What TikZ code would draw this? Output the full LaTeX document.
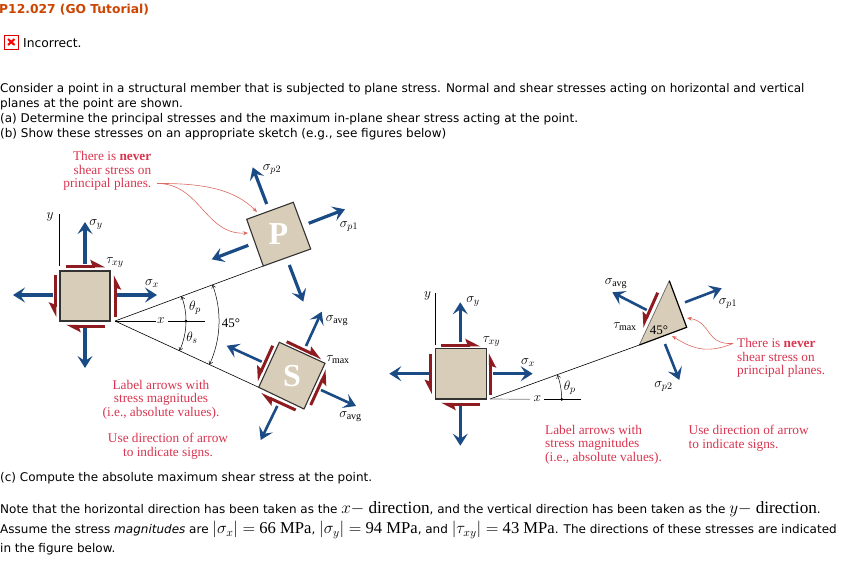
\documentclass[tikz,border=0pt]{standalone}
\usepackage{fix-cm}
\usepackage{amsmath}
\usepackage{fontspec}
\usetikzlibrary{arrows.meta}
\setmainfont{DejaVu Sans}
\setmathrm{Liberation Serif}
\newfontfamily\bookfont{Liberation Serif}
\DeclareMathSizes{13.5}{13.5}{10}{8}
\definecolor{stressblue}{HTML}{1B4B85}
\definecolor{stressred}{HTML}{8E1B20}
\definecolor{notepink}{HTML}{D8344F}
\definecolor{leaderpink}{HTML}{DB6A60}
\definecolor{boxtan}{HTML}{D8CDB8}
\definecolor{headorange}{HTML}{CC4400}
\newcommand{\bigserif}{\bookfont\fontsize{16.6}{16}\selectfont}
\newcommand{\dirserif}{\bookfont\fontsize{17.2}{16}\selectfont}
\tikzset{
	webtext/.style = {anchor=west, inner sep=0, yshift=-.7pt, font=\fontsize{12}{14}\selectfont},
	note/.style = {inner sep=0, yshift=-1pt, text=notepink, align=#1, font=\bookfont\fontsize{13.3}{13.6}\selectfont},
	note/.default = center,
	sym/.style = {inner sep=0, font=\fontsize{13.5}{13.5}\selectfont},
	bluearrow/.style = {draw=stressblue, line width=3.2pt, -{Stealth[length=12pt,width=15pt,inset=5pt]}},
	redarrow/.style = {draw=stressred, line width=3pt, -{Stealth[harpoon,length=12pt,width=12pt,inset=2pt]}},
	redarrowb/.style = {draw=stressred, line width=3pt, -{Stealth[harpoon,swap,length=12pt,width=12pt,inset=2pt]}},
	leader/.style = {draw=leaderpink, line width=.6pt, -{Stealth[length=5pt,width=4pt]}},
	thinarc/.style = {line width=.5pt, {Straight Barb[length=3pt,width=4pt]}-{Straight Barb[length=3pt,width=4pt]}},
	stressbox/.style = {draw=black!80, line width=1.5pt, fill=boxtan, line join=miter}
}
\begin{document}
\begin{tikzpicture}[x=1pt,y=-1pt]
	\useasboundingbox (0,0) rectangle (844,566);

	% page text
	\node [webtext, text=headorange, font=\bfseries\fontsize{12.3}{14}\selectfont] (title) at (-1,9) {P12.027 (GO Tutorial)};
	\draw [red!85!black, line width=1pt] (4,35) rectangle (18.5,49);
	\draw [red, line width=2pt] (8,39) -- (14.5,45) (14.5,39) -- (8,45);
	\node [webtext, font=\fontsize{12.3}{14}\selectfont] (verdict) at (23,42) {Incorrect.};
	\node [webtext] (lineA) at (0,88) {Consider a point in a structural member that is subjected to plane stress. Normal and shear stresses acting on horizontal and vertical};
	\node [webtext] (lineB) at (0,103) {planes at the point are shown.};
	\node [webtext] (lineC) at (0,118) {(a) Determine the principal stresses and the maximum in-plane shear stress acting at the point.};
	\node [webtext] (lineD) at (0,133) {(b) Show these stresses on an appropriate sketch (e.g., see figures below)};
	\node [webtext] (lineE) at (0,477) {(c) Compute the absolute maximum shear stress at the point.};
	\node [webtext] (lineF) at (0,508) {Note that the horizontal direction has been taken as the {\dirserif $x-$ direction}, and the vertical direction has been taken as the {\dirserif $y-$ direction}.};
	\node [webtext] (lineG) at (0,529) {Assume the stress \emph{magnitudes} are {\bigserif $|\sigma_x|=$ 66 MPa}, {\bigserif $|\sigma_y|=$ 94 MPa}, and {\bigserif $|\tau_{xy}|=$ 43 MPa}. The directions of these stresses are indicated};
	\node [webtext] (lineH) at (0,548) {in the figure below.};

	% left figure: element
	\draw [line width=.7pt] (59.5,214) -- (59.5,266);
	\draw [stressbox] (60,271) rectangle (110,321);
	\coordinate (pivotL) at (115,321);
	\draw [bluearrow] (85,264) -- (85,222);
	\draw [bluearrow] (117,295) -- (157,295);
	\draw [bluearrow] (53,295) -- (13,295);
	\draw [bluearrow] (85,326) -- (85,368);
	\draw [redarrow] (66,266) -- (105,266);
	\draw [redarrowb] (115,317) -- (115,275);
	\draw [redarrowb] (55,275) -- (55,317);
	\draw [redarrow] (105,326) -- (66,326);
	\node [sym] (yL) at (50,217) {$y$};
	\node [sym] (sigyL) at (96,225) {$\sigma_y$};
	\node [sym] (tauL) at (115,263) {$\tau_{xy}$};
	\node [sym] (sigxL) at (152,284) {$\sigma_x$};

	% left figure: P element
	\coordinate (cornerP) at (263.3,266);
	\draw [line width=.6pt] (pivotL) -- (cornerP);
	\draw [stressbox, line width=1.1pt] (246.7,219.3) -- (293.3,202.3) -- (310.7,249) -- (263.3,266) -- cycle;
	\node [text=white, font=\bookfont\bfseries\fontsize{32}{32}\selectfont, inner sep=0] (letterP) at (278.5,234) {P};
	\draw [bluearrow] (308.7,223.3) -- (345,209.3);
	\draw [bluearrow] (266.7,204) -- (252.7,167.3);
	\draw [bluearrow] (248.3,245.3) -- (211.7,259.3);
	\draw [bluearrow] (289.3,265) -- (303.3,301.7);
	\node [sym] (sigpA) at (272,170) {$\sigma_{p2}$};
	\node [sym] (sigpB) at (349,227) {$\sigma_{p1}$};
	\node [note=right, anchor=east] (neverL) at (151.5,170) {There is \textbf{never}\\shear stress on\\principal planes.};
	\coordinate (leaderL) at (157,183.5);
	\draw [leader] (leaderL) .. controls (205,183) and (235,190) .. (257,212);
	\draw [leader] (leaderL) .. controls (200,183) and (205,235) .. (248,233);

	% left figure: angles
	\draw [line width=.7pt] (pivotL) -- (156,321);
	\draw [line width=.7pt] (168,321) -- (205,321);
	\node [sym] (xL) at (161,321) {$x$};
	\fill (186,321) circle [radius=1.5pt];
	\draw [line width=.5pt, -{Straight Barb[length=3pt,width=4pt]}] (186,321) arc [start angle=0,end angle=20.4,radius=71pt];
	\draw [line width=.5pt, -{Straight Barb[length=3pt,width=4pt]}] (186,321) arc [start angle=0,end angle=-24.8,radius=71pt];
	\draw [thinarc] (pivotL) ++(-24.8:104pt) arc [start angle=-24.8,end angle=20.4,radius=104pt];
	\node [sym] (thpL) at (195,308) {$\theta_p$};
	\node [sym] (thsL) at (192,338) {$\theta_s$};
	\node [sym, font=\bookfont\fontsize{13}{13}\selectfont] (angL) at (231,323) {45°};

	% left figure: S element
	\coordinate (cornerS) at (258.7,387.3);
	\draw [line width=.6pt] (pivotL) -- (cornerS);
	\draw [stressbox, line width=1.1pt] (279.3,342.3) -- (325,363.3) -- (304,409) -- (258.7,387.3) -- cycle;
	\node [text=white, font=\bookfont\bfseries\fontsize{32}{32}\selectfont, inner sep=0] (letterS) at (292,376) {S};
	\draw [bluearrow, line width=2.6pt] (306,346) -- (321.7,311.7);
	\draw [bluearrow, line width=2.6pt] (321,390) -- (356,406);
	\draw [bluearrow, line width=2.6pt] (261.7,361.7) -- (226.7,345.7);
	\draw [bluearrow, line width=2.6pt] (277.3,406) -- (260.7,440);
	\draw [redarrow] (286.7,341.7) -- (321.7,358.3);
	\draw [redarrowb] (310.7,405) -- (326.7,370);
	\draw [redarrow] (295.7,410) -- (260.7,394);
	\draw [redarrowb] (272.7,345.7) -- (256.7,381);
	\node [sym] (sigaA) at (337,320.5) {$\sigma_{\mathrm{avg}}$};
	\node [sym] (sigaB) at (350.5,416.5) {$\sigma_{\mathrm{avg}}$};
	\node [sym] (tauS) at (338,360) {$\tau_{\mathrm{max}}$};
	\node [note] (labelL) at (161,398.5) {Label arrows with\\stress magnitudes\\(i.e., absolute values).};
	\node [note] (signL) at (168,445.5) {Use direction of arrow\\to indicate signs.};

	% right figure: element
	\draw [line width=.7pt] (435.7,293) -- (435.7,345);
	\draw [stressbox] (435.7,348.3) rectangle (486.7,399);
	\coordinate (pivotR) at (490,399);
	\draw [bluearrow] (460.3,342.3) -- (460.3,302.3);
	\draw [bluearrow] (492.7,373.7) -- (532.7,373.7);
	\draw [bluearrow] (429.3,373.7) -- (389.3,373.7);
	\draw [bluearrow] (460.3,406) -- (460.3,445.7);
	\draw [redarrow] (441,345) -- (480,345);
	\draw [redarrowb] (490,395) -- (490,353);
	\draw [redarrowb] (430.7,354) -- (430.7,394.3);
	\draw [redarrow] (480,404) -- (441,404);
	\node [sym] (yR) at (427.5,296) {$y$};
	\node [sym] (sigyR) at (473,302) {$\sigma_y$};
	\node [sym] (tauR) at (491.5,341.5) {$\tau_{xy}$};
	\node [sym] (sigxR) at (528,363) {$\sigma_x$};

	% right figure: wedge
	\coordinate (cornerW) at (639.3,345);
	\draw [line width=.6pt] (pivotR) -- (cornerW);
	\fill [boxtan] (cornerW) -- (669.3,280.7) -- (686.7,327.3) -- cycle;
	\draw [black!60, line width=.7pt] (cornerW) -- (669.3,280.7);
	\draw [line width=1.2pt] (669.3,280.7) -- (686.7,327.3) -- (cornerW);
	\draw [bluearrow, line width=2.6pt] (646.7,310) -- (612.3,292.3);
	\draw [bluearrow, line width=2.6pt] (685,302.3) -- (721.7,288.3);
	\draw [bluearrow, line width=2.6pt] (665,344) -- (679.3,380);
	\draw [redarrowb] (657.7,292.7) -- (642.3,327.3);
	\node [sym] (sigaR) at (616,283.5) {$\sigma_{\mathrm{avg}}$};
	\node [sym] (sigpC) at (728,303.5) {$\sigma_{p1}$};
	\node [sym] (tauW) at (625,327) {$\tau_{\mathrm{max}}$};
	\node [sym, font=\bookfont\fontsize{13}{13}\selectfont] (angR) at (659,330) {45°};
	\node [sym] (sigpD) at (663.5,387) {$\sigma_{p2}$};
	\node [note=left, anchor=west] (neverR) at (737,357) {There is \textbf{never}\\shear stress on\\principal planes.};
	\coordinate (leaderR) at (733,343.5);
	\draw [leader] (leaderR) .. controls (705,345) and (712,322) .. (687,318);
	\draw [leader] (leaderR) .. controls (705,355) and (690,347) .. (672,336);

	% right figure: angle
	\draw [black!50, line width=.7pt] (pivotR) -- (530,399.3);
	\draw [line width=.7pt] (544,399.3) -- (581,399.3);
	\node [sym] (xR) at (537.3,399) {$x$};
	\fill (561.7,399.3) circle [radius=1.5pt];
	\draw [line width=.5pt, -{Straight Barb[length=3pt,width=4pt]}] (561.7,399.3) arc [start angle=0,end angle=19.9,radius=71.7pt];
	\node [sym] (thpR) at (569.7,388) {$\theta_p$};
	\node [note=left, anchor=west] (labelR) at (545,443.5) {Label arrows with\\stress magnitudes\\(i.e., absolute values).};
	\node [note=left, anchor=west] (signR) at (688.5,437) {Use direction of arrow\\to indicate signs.};
\end{tikzpicture}
\end{document}
